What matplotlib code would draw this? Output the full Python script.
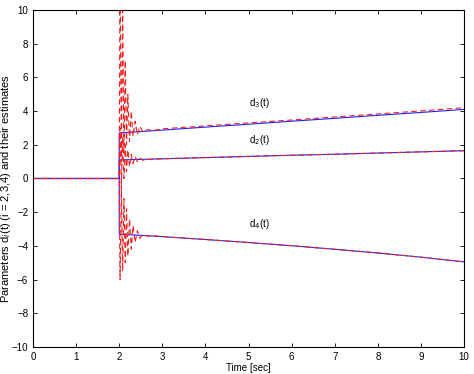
import matplotlib
matplotlib.use('Agg')
import matplotlib.pyplot as plt

plt.rcParams['font.family'] = ['Liberation Sans', 'DejaVu Sans']

# true parameters (jump at t = 2)
t_true = [0, 2, 2, 3, 4, 5, 6, 7, 8, 9, 10]
d2_true = [0, 0, 1.10, 1.17, 1.24, 1.31, 1.38, 1.44, 1.51, 1.58, 1.65]
d3_true = [0, 0, 2.70, 2.87, 3.05, 3.22, 3.40, 3.57, 3.75, 3.92, 4.10]
d4_true = [0, 0, -3.30, -3.45, -3.62, -3.80, -3.99, -4.20, -4.42, -4.67, -4.95]

# estimates: transient after the jump, then tracking
t_est = [0, 2.00, 2.02, 2.05, 2.08, 2.11, 2.14, 2.17, 2.20, 2.24, 2.28, 2.32,
         2.37, 2.42, 2.48, 2.55, 2.65, 2.80, 3, 4, 5, 6, 7, 8, 9, 10]
d2_est = [0, 0, 3.0, -0.5, 2.5, 0.0, 2.0, 0.4, 1.7, 0.7, 1.45, 0.9,
          1.3, 1.0, 1.2, 1.08, 1.13, 1.13, 1.17, 1.24, 1.31, 1.38, 1.44, 1.51, 1.58, 1.65]
d3_est = [0, 0, 13.0, 1.0, 10.0, 1.5, 7.0, 2.0, 5.0, 2.2, 4.0, 2.5,
          3.4, 2.6, 3.1, 2.75, 2.9, 2.85, 2.95, 3.12, 3.30, 3.47, 3.65, 3.83, 4.01, 4.20]
d4_est = [0, 0, -6.0, -0.5, -5.5, -1.2, -5.0, -1.8, -4.6, -2.4, -4.2, -2.8,
          -3.8, -3.1, -3.55, -3.3, -3.42, -3.40, -3.45, -3.62, -3.80, -3.99, -4.20, -4.42, -4.67, -4.95]

fig = plt.figure(figsize=(4.74, 3.74), dpi=100)
ax = fig.add_axes([0.0696, 0.0722, 0.9094, 0.9011])

for d in (d2_true, d3_true, d4_true):
    ax.plot(t_true, d, color='#2020ff', lw=0.8)
for d in (d2_est, d3_est, d4_est):
    ax.plot(t_est, d, color='#f02020', lw=0.8, ls=(0, (5, 3)))

ax.text(5.0, 4.3, 'd$_3$(t)', fontsize=7)
ax.text(5.0, 2.1, 'd$_2$(t)', fontsize=7)
ax.text(5.0, -2.9, 'd$_4$(t)', fontsize=7)

ax.set_xlim(0, 10)
ax.set_ylim(-10, 10)
ax.set_xticks(range(0, 11))
ax.set_yticks(range(-10, 11, 2))
ax.tick_params(direction='in', top=True, right=True, labelsize=7, length=3, width=0.6)
for s in ax.spines.values():
    s.set_linewidth(0.8)
ax.set_xlabel('Time [sec]', fontsize=7, labelpad=1)
ax.set_ylabel('Parameters d$_i$(t) (i = 2,3,4) and their estimates', fontsize=8)
ax.yaxis.set_label_coords(-0.047, 0.47)

fig.savefig('out.png', dpi=100)
